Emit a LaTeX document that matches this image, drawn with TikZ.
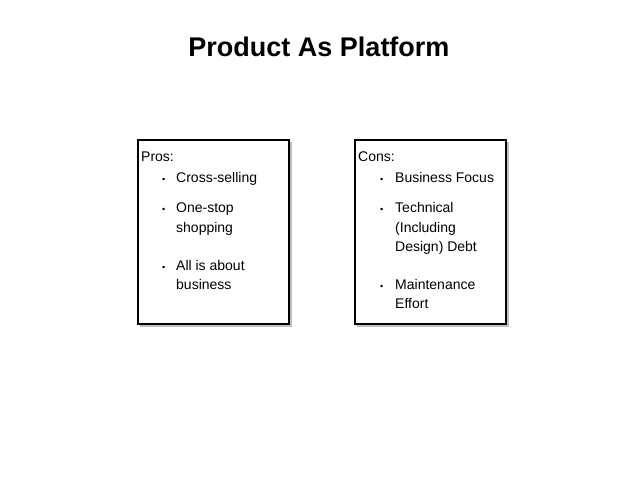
\documentclass[tikz,border=0pt]{standalone}
\usepackage{fontspec}
\setmainfont{Liberation Sans}
\begin{document}
\begin{tikzpicture}[x=1pt,y=-1pt,
  card/.style={draw=black,line width=1.6pt,fill=white},
  shade/.style={fill=black!25,draw=none},
  txt/.style={anchor=base west,inner sep=0pt,font=\fontsize{14}{17}\selectfont},
  bul/.style={anchor=base west,inner sep=0pt,font=\fontsize{9}{10}\selectfont}]
\useasboundingbox (0,0) rectangle (638,479);
\node[font=\bfseries\fontsize{27}{30}\selectfont] (title) at (319,47) {Product As Platform};
% boxes
\fill[shade] (140,142) rectangle (292,327);
\draw[card] (138,140) rectangle (289,324);
\fill[shade] (357,142) rectangle (509,327);
\draw[card] (355,140) rectangle (506,324);
% left
\node[txt] (p) at (141,161) {Pros:};
\node[bul] at (162,182) {•}; \node[txt] (p1) at (176,182) {Cross-selling};
\node[bul] at (162,212) {•}; \node[txt] (p2) at (176,212) {One-stop};
\node[txt] at (176,232) {shopping};
\node[bul] at (162,270) {•}; \node[txt] (p3) at (176,270) {All is about};
\node[txt] at (176,289) {business};
% right
\node[txt] (c) at (358,161) {Cons:};
\node[bul] at (380,182) {•}; \node[txt] (c1) at (395,182) {Business Focus};
\node[bul] at (380,212) {•}; \node[txt] (c2) at (395,212) {Technical};
\node[txt] at (395,232) {(Including};
\node[txt] at (395,251) {Design) Debt};
\node[bul] at (380,289) {•}; \node[txt] (c3) at (395,289) {Maintenance};
\node[txt] at (395,308) {Effort};
\end{tikzpicture}
\end{document}
